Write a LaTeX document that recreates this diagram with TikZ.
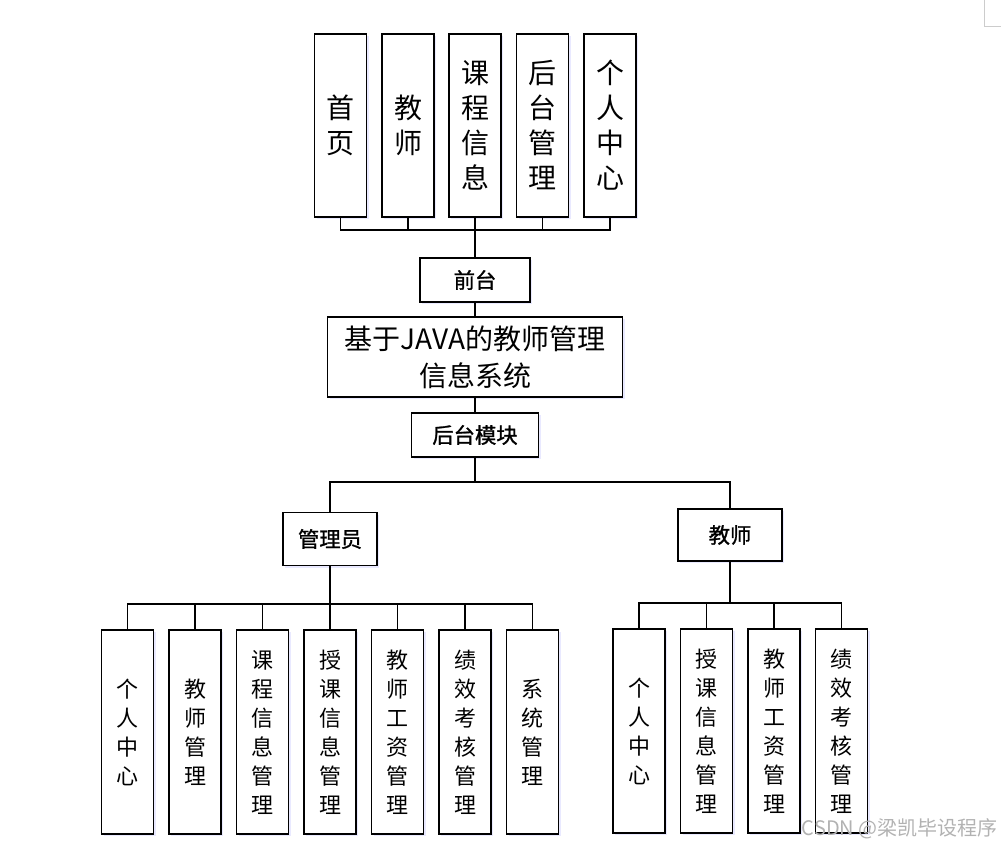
\documentclass[tikz,border=0pt]{standalone}
\usepackage{fontspec}
\setmainfont{Noto Sans CJK SC}
\newfontfamily\lblfont[FakeBold=1.2]{Noto Sans CJK SC}
\usetikzlibrary{positioning,shadows}

\begin{document}
\begin{tikzpicture}[x=0.75pt,y=-0.75pt,
        box/.style={draw, line width=1.2pt, fill=white, inner sep=0pt, align=center,
            drop shadow={shadow xshift=1.5pt, shadow yshift=-1.5pt, fill=blue!25, opacity=0.35}},
        topbox/.style={box, minimum width=39pt, minimum height=137.25pt, font=\fontsize{21pt}{26.25pt}\selectfont},
        subbox/.style={box, minimum width=39pt, minimum height=153pt, font=\fontsize{16.5pt}{21.75pt}\selectfont},
        lbl/.style={box, font=\lblfont\fontsize{16pt}{20pt}\selectfont},
        link/.style={line width=1pt},
        trunk/.style={line width=2pt}]
        \useasboundingbox (0,0) rectangle (1001,853);

        \node[topbox] (sy) at (340.5,125.5) {首\\页};
        \node[topbox] (js) at (408,125.5) {教\\师};
        \node[topbox] (kc) at (475,125.5) {课\\程\\信\\息};
        \node[topbox] (hg) at (542.5,125.5) {后\\台\\管\\理};
        \node[topbox] (gr) at (610,125.5) {个\\人\\中\\心};

        \node[lbl, minimum width=82.5pt, minimum height=33pt] (qt) at (475,280) {前台};
        \node[box, minimum width=221.25pt, minimum height=60pt,
            font=\fontsize{21pt}{27.75pt}\selectfont] (xt) at (475,357) {基于JAVA的教师管理\\信息系统};
        \node[lbl, minimum width=95.25pt, minimum height=33pt] (hm) at (475,435) {后台模块};

        \node[lbl, minimum width=70.5pt, minimum height=39.75pt] (gly) at (330,539) {管理员};
        \node[lbl, minimum width=78pt, minimum height=39pt] (jsr) at (730,535) {教师};

        \node[subbox] (a1) at (127.5,732) {个\\人\\中\\心};
        \node[subbox] (a2) at (195,732) {教\\师\\管\\理};
        \node[subbox] (a3) at (262.5,732) {课\\程\\信\\息\\管\\理};
        \node[subbox] (a4) at (330,732) {授\\课\\信\\息\\管\\理};
        \node[subbox] (a5) at (397.5,732) {教\\师\\工\\资\\管\\理};
        \node[subbox] (a6) at (465,732) {绩\\效\\考\\核\\管\\理};
        \node[subbox] (a7) at (532.5,732) {系\\统\\管\\理};

        \node[subbox] (b1) at (639,731) {个\\人\\中\\心};
        \node[subbox] (b2) at (706.5,731) {授\\课\\信\\息\\管\\理};
        \node[subbox] (b3) at (774,731) {教\\师\\工\\资\\管\\理};
        \node[subbox] (b4) at (841.5,731) {绩\\效\\考\\核\\管\\理};

        \coordinate (tb) at (475,230);
        \coordinate (mb) at (475,482);
        \coordinate (lb) at (330,604);
        \coordinate (rb) at (730,603);

        \draw[link] (sy.south) |- (tb);
        \draw[link] (js.south) |- (tb);
        \draw[link] (kc.south) -- (tb);
        \draw[link] (hg.south) |- (tb);
        \draw[link] (gr.south) |- (tb);
        \draw[trunk] (tb) -- (qt);

        \draw[link] (qt) -- (xt);
        \draw[link] (xt) -- (hm);
        \draw[link] (hm) -- (mb);
        \draw[link] (mb) -| (gly);
        \draw[link] (mb) -| (jsr);

        \draw[trunk] (gly) -- (lb);
        \draw[link] (lb) -| (a1);
        \draw[link] (lb) -| (a2);
        \draw[link] (lb) -| (a3);
        \draw[link] (lb) -- (a4);
        \draw[link] (lb) -| (a5);
        \draw[link] (lb) -| (a6);
        \draw[link] (lb) -| (a7);

        \draw[trunk] (jsr) -- (rb);
        \draw[link] (rb) -| (b1);
        \draw[link] (rb) -| (b2);
        \draw[link] (rb) -| (b3);
        \draw[link] (rb) -| (b4);

        \draw[gray!40, line width=0.75pt] (984,0) -- (984,26) -- (1001,26);
        \node[anchor=east, inner sep=0pt, text=gray!60, font=\fontsize{15pt}{18pt}\selectfont] (wm) at (998,829) {CSDN @梁凯毕设程序};
    \end{tikzpicture}
\end{document}
